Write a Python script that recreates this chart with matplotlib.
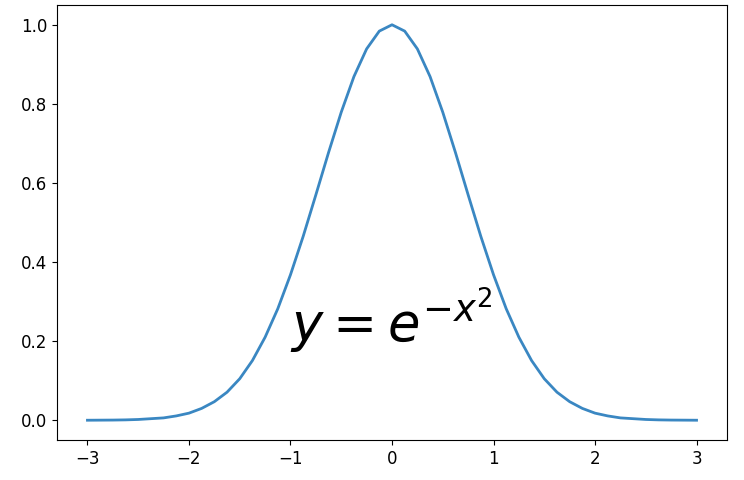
import matplotlib
matplotlib.use("Agg")
import matplotlib.pyplot as plt

# points, step 0.125
xs = [-3.0, -2.875, -2.75, -2.625, -2.5, -2.375, -2.25, -2.125, -2.0,
      -1.875, -1.75, -1.625, -1.5, -1.375, -1.25, -1.125, -1.0,
      -0.875, -0.75, -0.625, -0.5, -0.375, -0.25, -0.125, 0.0,
      0.125, 0.25, 0.375, 0.5, 0.625, 0.75, 0.875, 1.0,
      1.125, 1.25, 1.375, 1.5, 1.625, 1.75, 1.875, 2.0,
      2.125, 2.25, 2.375, 2.5, 2.625, 2.75, 2.875, 3.0]
ys = [0.0001, 0.0003, 0.0005, 0.001, 0.002, 0.004, 0.006, 0.011, 0.018,
      0.030, 0.047, 0.071, 0.105, 0.151, 0.210, 0.282, 0.368,
      0.465, 0.570, 0.677, 0.779, 0.869, 0.939, 0.984, 1.000,
      0.984, 0.939, 0.869, 0.779, 0.677, 0.570, 0.465, 0.368,
      0.282, 0.210, 0.151, 0.105, 0.071, 0.047, 0.030, 0.018,
      0.011, 0.006, 0.004, 0.002, 0.001, 0.0005, 0.0003, 0.0001]

label = r"$y=e^{-x^2}$"
label_x, label_y = -1.0, 0.2

fig = plt.figure(figsize=(7.44, 4.8), dpi=100)
ax = fig.add_axes([57/744, 40/480, 670/744, 435/480])
ax.plot(xs, ys, color="#3a87c2", lw=2)
ax.text(label_x, label_y, label, fontsize=38)
ax.tick_params(labelsize=12)

fig.savefig("out.png", dpi=100)
